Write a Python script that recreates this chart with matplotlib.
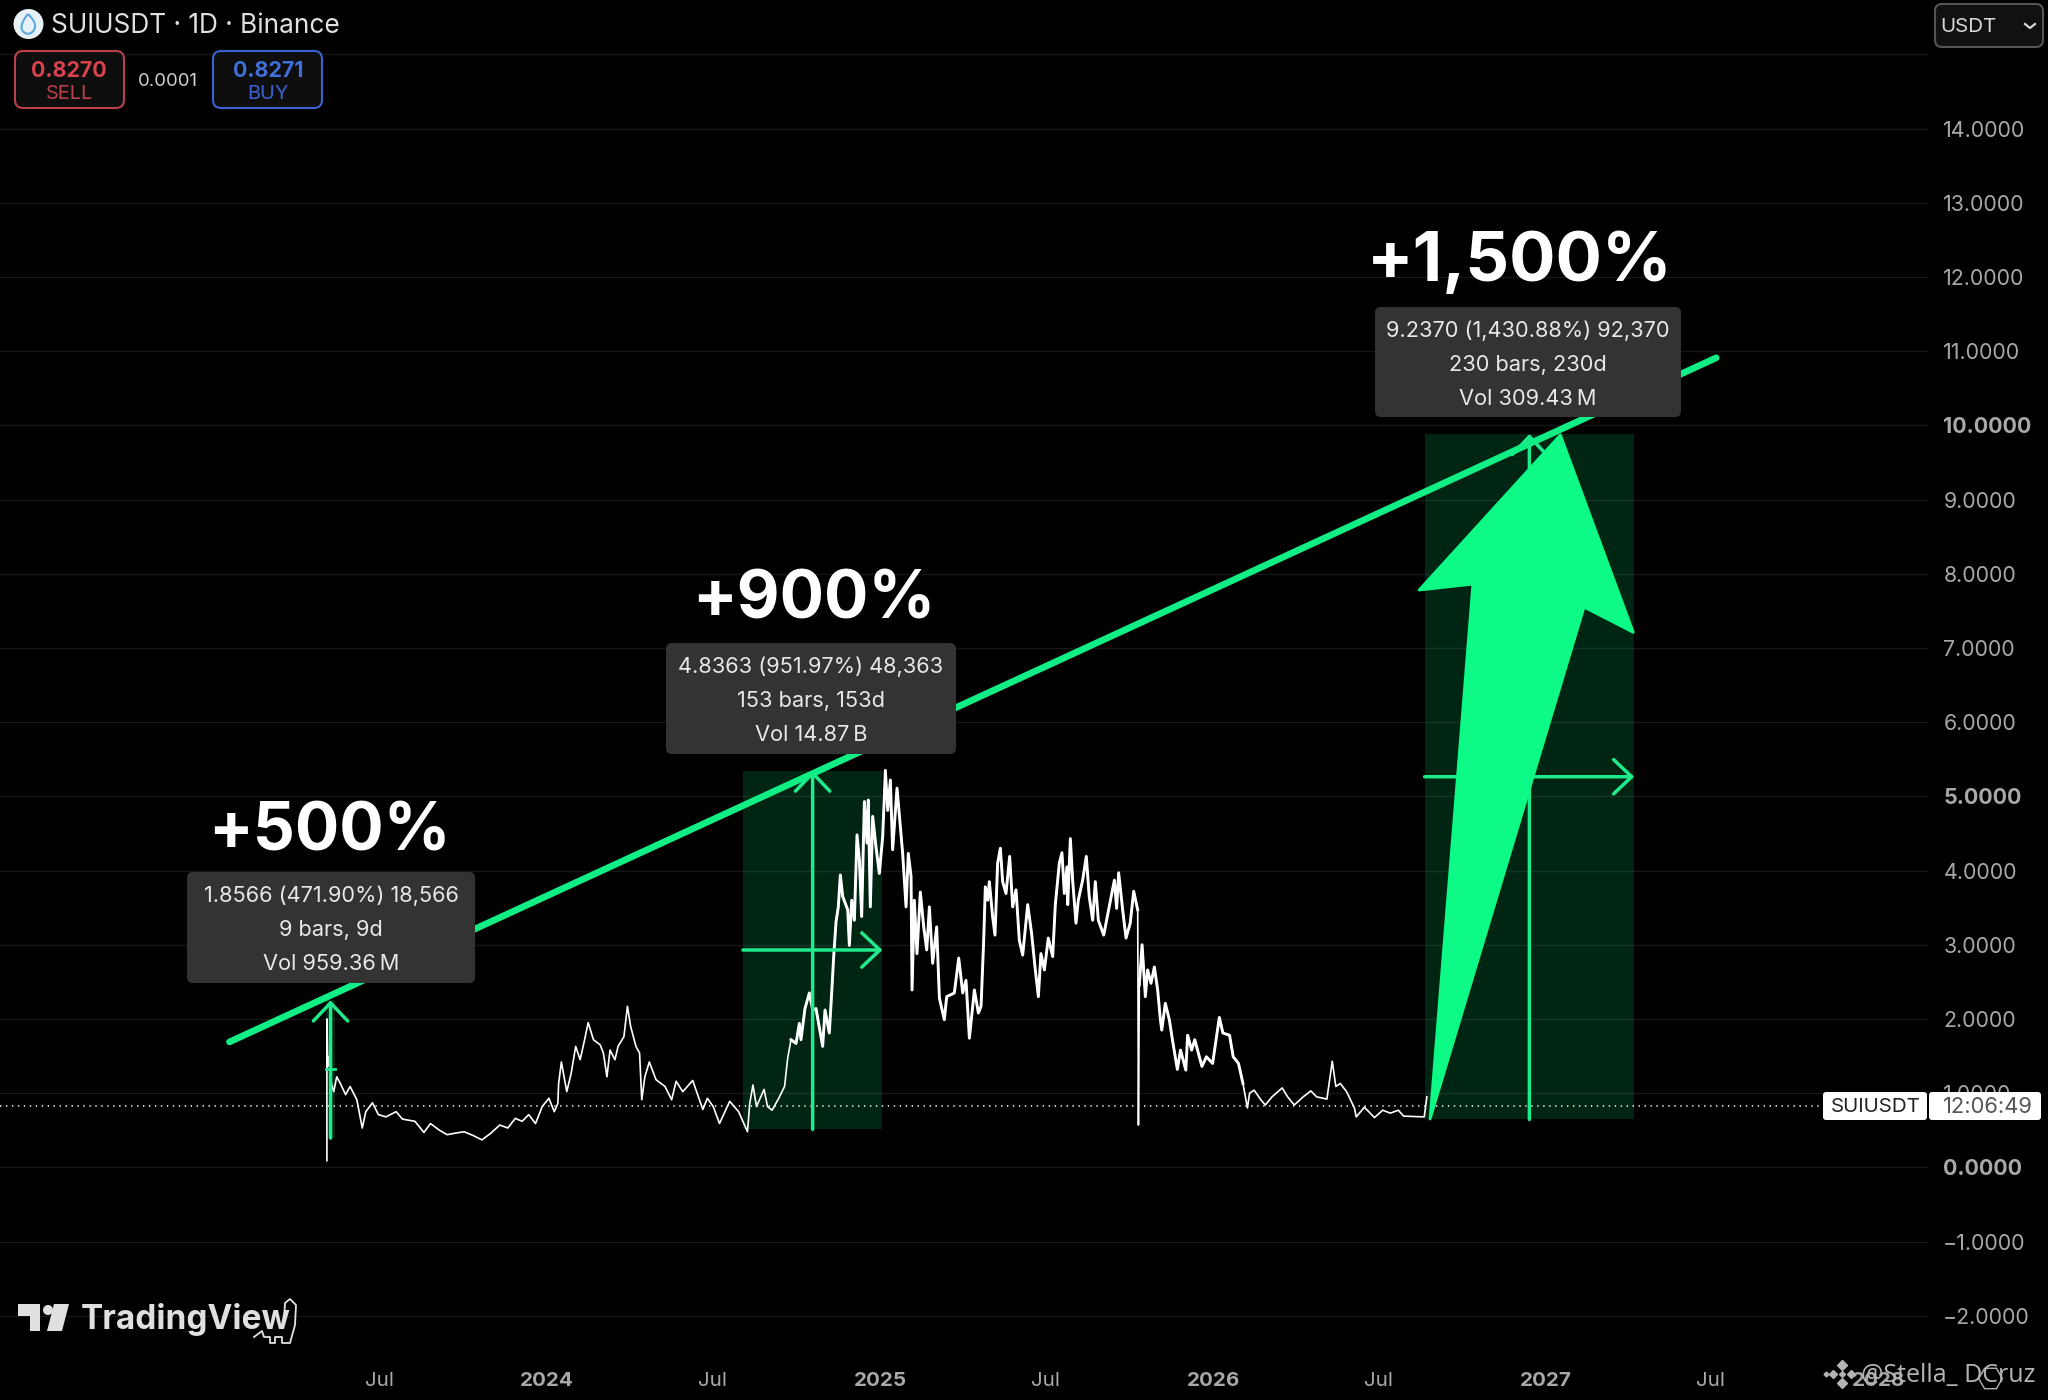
"""Recreates the SUIUSDT daily TradingView screenshot with the three measure boxes."""

import matplotlib
matplotlib.use("Agg")
import matplotlib.pyplot as plt
import numpy as np
import pandas as pd
from matplotlib.patches import Circle, FancyArrowPatch, FancyBboxPatch, PathPatch, Polygon, Rectangle
from matplotlib.path import Path

plt.rcParams["font.family"] = ["Inter", "DejaVu Sans"]

# --- data ---------------------------------------------------------------
# x is days since 2024-01-01, y is price in USDT
price_days = [
    -241.5, -241.5, -240.5, -239, -236.5, -234, -230.7, -226.7, -221, -216, -208.6, -202.7,
    -198.8, -191.5, -185, -176.8, -165.5, -158.6, -144.9, -135, -127.8, -118, -109.6, -100.8,
    -91, -81.2, -71.4, -61.6, -51.8, -43, -34.7, -27.3, -20, -12.6, -5.2, 2.1,
    8, 11.9, 12.8, 15.8, 21.7, 26.6, 31.5, 36.4, 41.3, 45.2, 51, 58.4,
    61.9, 65.8, 69.2, 74.6, 78, 84.4, 88.3, 91.8, 97.6, 101.6, 104, 107.4,
    112.3, 119.7, 129.5, 136.8, 141.7, 149, 159.9, 171, 176, 182.4, 189.3, 200.5,
    210.3, 220, 222.5, 226, 229.9, 238.2, 242, 247, 254.3, 260.7,
    264.1, 267.8, 273.3, 276.9, 278.7, 283.1, 287.9, 291.6, 295.2, 300, 302.5, 305.1,
    309.8, 312.4, 314.6, 317.2, 319.7, 321.9, 324.5, 330, 331.8, 334.4, 337.3, 340.2,
    342.8, 345.3, 348.3, 351.2, 352.6, 354.8, 357.4, 361, 364.7, 368.4, 371.3, 373.9,
    376.8, 379.3, 384.1, 387.8, 390.3, 394, 396.5, 399.5, 400.6, 403.1, 406, 409.7,
    413.4, 416.7, 419.6, 423.2, 427.6, 430.6, 436, 438.6, 447, 451.8, 456.2, 459.8,
    463.5, 469, 473.4, 476.3, 479.2, 481, 483.6, 485.4, 489, 491.6, 494.5, 497.5,
    500, 503.7, 507.7, 511, 514.7, 518.3, 522, 527.5, 531.8, 535.5, 539.2, 542,
    545.8, 550.1, 554.9, 557.8, 562.2, 565.1, 567.7, 570.6, 571.4, 574.3, 576.8, 580.5,
    583, 587.8, 591.8, 595, 598.8, 601.7, 605, 610.9, 616, 622.6, 625.1, 627.3,
    631.7, 635.4, 640, 643.8, 648.2, 649, 650, 653, 656.6, 659.1, 662.8, 666.5,
    670.1, 673, 674.6, 678.5, 682.9, 686.3, 691.7, 695.2, 701, 703,
    707.4, 710.8, 718.7, 723.6, 730.4, 737.8, 741.7, 749, 753, 758.8, 763.7, 768.6,
    771, 776, 783.3, 788.2, 795.6, 806.8, 812.7, 820, 829.8, 838.2, 844.5, 855.8,
    861.7, 865.6, 870.5, 877.4, 886, 888, 897, 908, 917, 925.4, 934.2, 940,
    962.6, 965.5,
]
price_vals = [
    0.09, 2.0, 1.36, 1.49, 1.13, 1.02, 1.22, 1.13, 0.98, 1.09, 0.91, 0.53,
    0.75, 0.87, 0.71, 0.68, 0.75, 0.65, 0.62, 0.47, 0.59, 0.50, 0.44, 0.46,
    0.48, 0.43, 0.37, 0.46, 0.57, 0.53, 0.66, 0.62, 0.71, 0.59, 0.82, 0.93,
    0.75, 0.86, 1.13, 1.42, 1.02, 1.27, 1.63, 1.45, 1.72, 1.95, 1.72, 1.65,
    1.54, 1.22, 1.58, 1.45, 1.63, 1.76, 2.17, 1.90, 1.63, 1.54, 0.91, 1.22,
    1.42, 1.18, 1.09, 0.91, 1.16, 1.02, 1.17, 0.78, 0.93, 0.82, 0.59, 0.89,
    0.75, 0.48, 0.86, 1.11, 0.82, 1.05, 0.82, 0.77, 0.93, 1.09,
    1.47, 1.72, 1.67, 1.94, 1.72, 2.14, 2.35, 2.12, 2.14, 1.81, 1.63, 2.12,
    1.81, 2.35, 2.84, 3.31, 3.51, 3.94, 3.65, 3.47, 2.99, 3.60, 3.33, 4.48,
    4.14, 3.38, 4.93, 4.37, 4.95, 3.51, 4.73, 4.32, 3.96, 4.46, 5.35, 4.81,
    5.22, 4.28, 5.11, 4.59, 4.23, 3.51, 4.23, 3.92, 2.39, 3.60, 2.88, 3.71,
    3.24, 2.93, 3.51, 2.75, 3.24, 2.28, 1.99, 2.30, 2.35, 2.82, 2.35, 2.52,
    1.74, 2.39, 2.08, 2.17, 3.06, 3.78, 3.60, 3.85, 3.38, 3.13, 4.10, 4.30,
    3.85, 3.69, 4.19, 3.51, 3.74, 3.06, 2.86, 3.54, 3.15, 2.70, 2.30, 2.88,
    2.66, 3.09, 2.84, 3.54, 4.10, 4.24, 3.69, 4.05, 3.54, 4.43, 3.87, 3.29,
    3.60, 3.87, 4.19, 3.65, 3.33, 3.85, 3.33, 3.13, 3.45, 3.87, 3.49, 3.97,
    3.47, 3.09, 3.29, 3.72, 3.47, 0.57, 2.46, 3.0, 2.30, 2.66, 2.48, 2.70,
    2.39, 2.0, 1.85, 2.21, 1.99, 1.72, 1.32, 1.58, 1.31, 1.78,
    1.58, 1.72, 1.36, 1.49, 1.40, 2.02, 1.81, 1.78, 1.49, 1.40, 1.13, 0.80,
    1.00, 1.04, 0.91, 0.84, 0.95, 1.07, 0.95, 0.84, 0.95, 1.03, 0.95, 0.92,
    1.43, 1.09, 1.13, 1.02, 0.80, 0.68, 0.81, 0.67, 0.77, 0.73, 0.77, 0.69,
    0.68, 0.95,
]
last_price = 0.8270

# measure tools: first day, bars, base price, price change
measure_days = [-242, 215, 963]
measure_bars = [9, 153, 230]
measure_base = [0.3934, 0.5109, 0.6456]
measure_change = [1.8566, 4.8363, 9.2370]

trend_days = [-348.4, 1283]
trend_prices = [1.69, 10.91]

arrow_days = [969, 1016, 957, 1112, 1192, 1138]
arrow_prices = [0.65, 7.86, 7.78, 9.87, 7.21, 7.55]

y_ticks = list(range(-2, 16))
y_labels = ["\u22122.0000", "\u22121.0000", "0.0000", "1.0000", "2.0000", "3.0000",
            "4.0000", "5.0000", "6.0000", "7.0000", "8.0000", "9.0000", "10.0000",
            "11.0000", "12.0000", "13.0000", "14.0000", ""]
y_bold = ["0.0000", "5.0000", "10.0000"]

x_dates = ["2023-07-01", "2024-01-01", "2024-07-01", "2025-01-01", "2025-07-01",
           "2026-01-01", "2026-07-01", "2027-01-01", "2027-07-01", "2028-01-01"]
x_labels = ["Jul", "2024", "Jul", "2025", "Jul", "2026", "Jul", "2027", "Jul", "2028"]

gains = ["+500%", "+900%", "+1,500%"]
box_lines = [
    ["1.8566 (471.90%) 18,566", "9 bars, 9d", "Vol 959.36\u2009M"],
    ["4.8363 (951.97%) 48,363", "153 bars, 153d", "Vol 14.87\u2009B"],
    ["9.2370 (1,430.88%) 92,370", "230 bars, 230d", "Vol 309.43\u2009M"],
]

# --- layout (pixels of the 2048x1400 picture) -------------------------------
WIDTH, HEIGHT = 2048, 1400
PLOT_RIGHT, PLOT_BOTTOM = 1928, 1365
XLIM = (-600.2, 1515.4)
YLIM = (-2.664, 15.732)
GAIN_POS = [(329, 833), (814, 601), (1520, 263)]
GAIN_SIZE = [47.5, 47.5, 49.5]
BOX_RECT = [(187, 872, 288, 111), (666, 643, 290, 111), (1375, 307, 306, 110)]

GREEN = "#1EEB8C"
TREND = "#10EE85"
ARROW = "#0CFA85"
GREY = "#A8A8A8"


def draw_price(ax):
    ax.set_facecolor("black")
    ax.set_xlim(*XLIM)
    ax.set_ylim(*YLIM)
    for s in ax.spines.values():
        s.set_visible(False)

    ax.yaxis.tick_right()
    ax.set_yticks(y_ticks)
    ax.set_yticklabels(y_labels, fontsize=15.4, color=GREY)
    ax.grid(True, axis="y", color="#161616", linewidth=1.0)
    ax.set_axisbelow(True)
    ax.tick_params(axis="y", length=0, pad=11)
    for lab in ax.get_yticklabels():
        if lab.get_text() in y_bold:
            lab.set_fontweight("bold")

    start = pd.Timestamp("2024-01-01")
    ax.set_xticks([(pd.Timestamp(d) - start).days for d in x_dates])
    ax.set_xticklabels(x_labels, fontsize=14.8, color=GREY)
    ax.tick_params(axis="x", length=0, pad=5)
    for lab in ax.get_xticklabels():
        if lab.get_text() != "Jul":
            lab.set_fontweight("bold")

    days = np.array(price_days)
    vals = np.array(price_vals)
    ax.plot(days, vals, color="white", linewidth=1.2, zorder=3)
    # the volatile stretch reads as a thick ribbon of candles in the screenshot
    ribbon = vals.copy()
    ribbon[(days < 265) | (days > 770) | (vals < 1.0)] = np.nan
    ax.plot(days, ribbon, color="white", linewidth=2.1, zorder=3)
    ax.axhline(last_price, color="white", linewidth=1.1, linestyle=(0, (0.9, 3)), zorder=3)


def measure_arrow(ax, start, end):
    ax.add_patch(FancyArrowPatch(start, end, arrowstyle="->,head_length=1,head_width=0.95",
                                 color=GREEN, lw=2.5, mutation_scale=13,
                                 shrinkA=0, shrinkB=0, zorder=4))


def draw_measures(ax):
    for day, bars, base, change in zip(measure_days, measure_bars, measure_base, measure_change):
        mid_x = day + bars / 2
        mid_y = base + change / 2
        ax.add_patch(Rectangle((day, base), bars, change, facecolor="#00FF80",
                               alpha=0.15, edgecolor="none", zorder=2))
        measure_arrow(ax, (mid_x, base), (mid_x, base + change))
        if bars > 20:
            measure_arrow(ax, (day, mid_y), (day + bars, mid_y))
        else:
            ax.plot([day, day + bars], [mid_y, mid_y], color=GREEN, linewidth=2, zorder=4)

    ax.add_patch(Polygon(list(zip(arrow_days, arrow_prices)), closed=True, facecolor=ARROW,
                         edgecolor=ARROW, linewidth=2, joinstyle="round", zorder=5))
    ax.plot(trend_days, trend_prices, color=TREND, linewidth=4.8,
            solid_capstyle="round", zorder=6)


def round_box(ui, x, y, w, h, r, face, edge="none", lw=0.0):
    ui.add_patch(FancyBboxPatch((x + r, y + r), w - 2 * r, h - 2 * r,
                                boxstyle=f"round,pad={r},rounding_size={r}",
                                facecolor=face, edgecolor=edge, linewidth=lw))


def draw_annotations(ui):
    for (x, y), gain, size in zip(GAIN_POS, gains, GAIN_SIZE):
        ui.text(x, y, gain, color="white", fontsize=size, fontweight="bold",
                ha="center", va="center")
    for (x, y, w, h), rows in zip(BOX_RECT, box_lines):
        round_box(ui, x, y, w, h, 6, "#333333")
        for i, row in enumerate(rows):
            ui.text(x + w / 2, y + 24 + i * 34, row, color="#E8E8E8", fontsize=15.7,
                    ha="center", va="center")


def draw_header(ui):
    ui.add_patch(Circle((28.5, 24), 15, facecolor="#E8F1F6", edgecolor="none"))
    drop = [(28, 14), (33, 19), (37, 24), (34, 30), (31, 35), (25, 35), (22, 30), (20, 25), (24, 19), (28, 14)]
    codes = [Path.MOVETO] + [Path.CURVE4] * 9
    ui.add_patch(PathPatch(Path(drop, codes), facecolor="none", edgecolor="#5BA9E0", linewidth=1.5))
    ui.text(51, 26, "SUIUSDT \u00b7 1D \u00b7 Binance", color="#E0E0E0", fontsize=18.9, va="center")

    round_box(ui, 15, 51, 109, 57, 8, "#0E0E0E", "#BC4049", 1.5)
    ui.text(69, 71, "0.8270", color="#D8434E", fontsize=15.4, fontweight="bold", ha="center", va="center")
    ui.text(69, 94, "SELL", color="#BC4049", fontsize=14.4, ha="center", va="center")
    ui.text(168, 82, "0.0001", color="#D0D0D0", fontsize=13.4, ha="center", va="center")
    round_box(ui, 213, 51, 109, 57, 8, "#0E0E0E", "#3A62D0", 1.5)
    ui.text(268, 71, "0.8271", color="#3F6FD8", fontsize=15.4, fontweight="bold", ha="center", va="center")
    ui.text(268, 94, "BUY", color="#3A62D0", fontsize=14.4, ha="center", va="center")

    round_box(ui, 1935, 4, 108, 43, 7, "#111111", "#555555", 1.5)
    ui.text(1940, 27, "USDT", color="#D8D8D8", fontsize=14.8, va="center")
    ui.plot([2025, 2030, 2035], [24, 28, 24], color="#D8D8D8", linewidth=1.6)


def draw_price_tag(ui):
    round_box(ui, 1823, 1092, 104, 28, 3, "white")
    round_box(ui, 1929, 1092, 112, 28, 3, "white")
    ui.text(1876, 1107, "SUIUSDT", color="#222222", fontsize=14.8, ha="center", va="center")
    ui.text(1988, 1107, "12:06:49", color="#555555", fontsize=15.8, ha="center", va="center")


def draw_logos(ui):
    logo = "#E0E0E0"
    ui.add_patch(Polygon([(18, 1304), (40, 1304), (40, 1331), (30, 1331), (30, 1316), (18, 1316)], facecolor=logo))
    ui.add_patch(Circle((48, 1310), 5, facecolor=logo))
    ui.add_patch(Polygon([(54, 1304), (69, 1304), (62, 1331), (47, 1331)], facecolor=logo))
    ui.text(81, 1320, "TradingView", color=logo, fontsize=24, fontweight="bold", va="center")
    # the little dinosaur sitting on the w
    ui.plot([254, 262, 264, 270, 270, 275, 275, 282, 282, 290, 295, 296, 290, 285, 284],
            [1337, 1331, 1337, 1337, 1343, 1343, 1337, 1337, 1343, 1343, 1325, 1305, 1299, 1303, 1320],
            color=logo, linewidth=1.3)

    # reposting watermark on top of the time axis
    ui.text(1861, 1375, "@Stella_ DCruz", color="#B4B4B4", fontsize=18, family=["Open Sans", "DejaVu Sans"], va="center")
    for dx, dy, size in [(0, -9, 5), (0, 9, 5), (-9, 0, 4), (9, 0, 4), (0, 0, 3), (-16, 0, 2.5)]:
        ui.plot(1842 + dx, 1374 + dy, marker="D", markersize=size, color="#B4B4B4")
    ui.plot(1990, 1378, marker="H", markersize=17, markerfacecolor="none", markeredgecolor="#B4B4B4")


def main():
    fig = plt.figure(figsize=(WIDTH / 100, HEIGHT / 100), dpi=100, facecolor="black")
    ax = fig.add_axes([0, 1 - PLOT_BOTTOM / HEIGHT, PLOT_RIGHT / WIDTH, PLOT_BOTTOM / HEIGHT])
    ui = fig.add_axes([0, 0, 1, 1], facecolor="none")
    ui.set_xlim(0, WIDTH)
    ui.set_ylim(HEIGHT, 0)
    ui.axis("off")

    draw_price(ax)
    draw_measures(ax)
    draw_annotations(ui)
    draw_header(ui)
    draw_price_tag(ui)
    draw_logos(ui)

    fig.savefig("out.png", dpi=100, facecolor="black")
    plt.close(fig)


if __name__ == "__main__":
    main()
